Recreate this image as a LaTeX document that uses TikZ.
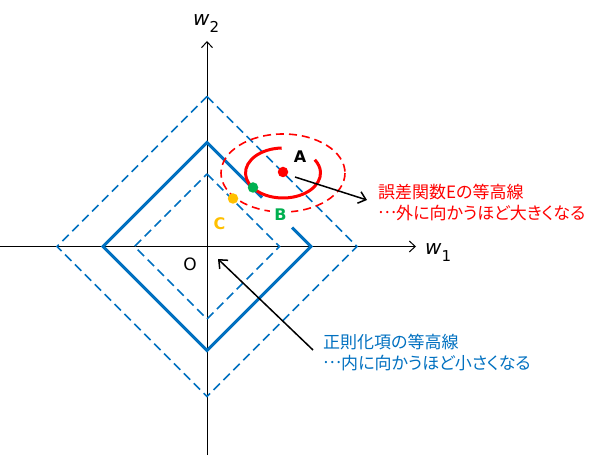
\documentclass[tikz,border=0pt]{standalone}
\usepackage{fontspec}
\usetikzlibrary{arrows.meta}
\newfontfamily\jpfont[RawFeature=+palt]{Noto Sans CJK JP}
\newfontfamily\latfont{DejaVu Sans}
\definecolor{myblue}{HTML}{0070C0}
\definecolor{myred}{HTML}{FF0000}
\definecolor{mygreen}{HTML}{00B050}
\definecolor{myorange}{HTML}{FFC000}
\newcommand{\midell}{\raisebox{0.34em}[0pt][0pt]{…}}
\begin{document}
\begin{tikzpicture}[x=1pt,y=-1pt,
  axisline/.style={line width=1pt,black,-{Straight Barb[length=6pt,width=11pt,line width=1pt]}},
  callout/.style={line width=1.5pt,black,-{Straight Barb[length=7pt,width=12pt,line width=1.5pt]}},
  bluesolid/.style={line width=3pt,myblue},
  bluedash/.style={line width=1.6pt,myblue,dash pattern=on 9pt off 5pt},
  redsolid/.style={line width=3pt,myred},
  reddash/.style={line width=1.6pt,myred,dash pattern=on 8pt off 5pt},
  ptlabel/.style={inner sep=0pt,anchor=base,font=\latfont\fontsize{16}{16}\selectfont\bfseries},
  dotmark/.style={circle,inner sep=0pt,minimum size=10.5pt},
  jptext/.style={inner sep=0pt,anchor=west,align=left,font=\jpfont\fontsize{17}{21}\selectfont}
]
\useasboundingbox (0,0) rectangle (595,457);
% axes
\coordinate (xs) at (0,246.5);
\coordinate (xe) at (416,246.5);
\coordinate (ys) at (207,455);
\coordinate (ye) at (207,41);
\draw[axisline] (xs) -- (xe);
\draw[axisline] (ys) -- (ye);
\node[inner sep=0pt,anchor=base west] (w1) at (425,255) {\latfont\fontsize{20}{20}\selectfont\itshape w\raisebox{-7pt}{\upshape\fontsize{15}{15}\selectfont 1}};
\node[inner sep=0pt,anchor=base west] (w2) at (193,26) {\latfont\fontsize{20}{20}\selectfont\itshape w\raisebox{-7pt}{\upshape\fontsize{15}{15}\selectfont 2}};
\node[inner sep=0pt,anchor=base] (O) at (190,271) {\latfont\fontsize{17}{17}\selectfont O};
% diamonds
\draw[bluedash] (207,96.5) -- (357,246.5) -- (207,396.5) -- (57,246.5) -- cycle;
\draw[bluedash] (207,174) -- (279.5,246.5) -- (207,319) -- (134.5,246.5) -- cycle;
\draw[bluesolid] (292,227.5) -- (311,246.5) -- (207,350.5) -- (103,246.5) -- (207,142.5) -- (262,197.5);
% ellipses
\draw[reddash] (283,173) ellipse [x radius=62, y radius=39];
\draw[redsolid] (283,173) ++(-92:37.5 and 25) arc[start angle=-92, end angle=-392, x radius=37.5, y radius=25];
% dots
\node[dotmark,fill=myred] (dA) at (283,172) {};
\node[dotmark,fill=mygreen] (dB) at (253,187.5) {};
\node[dotmark,fill=myorange] (dC) at (233,198.5) {};
\node[ptlabel,text=black] (A) at (300,163) {A};
\node[ptlabel,text=mygreen,fill=white,inner xsep=4pt,inner ysep=2pt] (B) at (280.5,221) {B};
\node[ptlabel,text=myorange] (C) at (219.5,230) {C};
% texts
\node[jptext,text=myred] (Etext) at (378,202.5) {誤差関数Eの等高線\\\midell 外に向かうほど大きくなる};
\node[jptext,text=myblue] (Rtext) at (323,352.5) {正則化項の等高線\\\midell 内に向かうほど小さくなる};
% callout arrows
\coordinate (a1s) at (295,177);
\coordinate (a1e) at (367,200);
\coordinate (a2s) at (313,350);
\coordinate (a2e) at (218,259);
\draw[callout] (a1s) -- (a1e);
\draw[callout] (a2s) -- (a2e);
\end{tikzpicture}
\end{document}
